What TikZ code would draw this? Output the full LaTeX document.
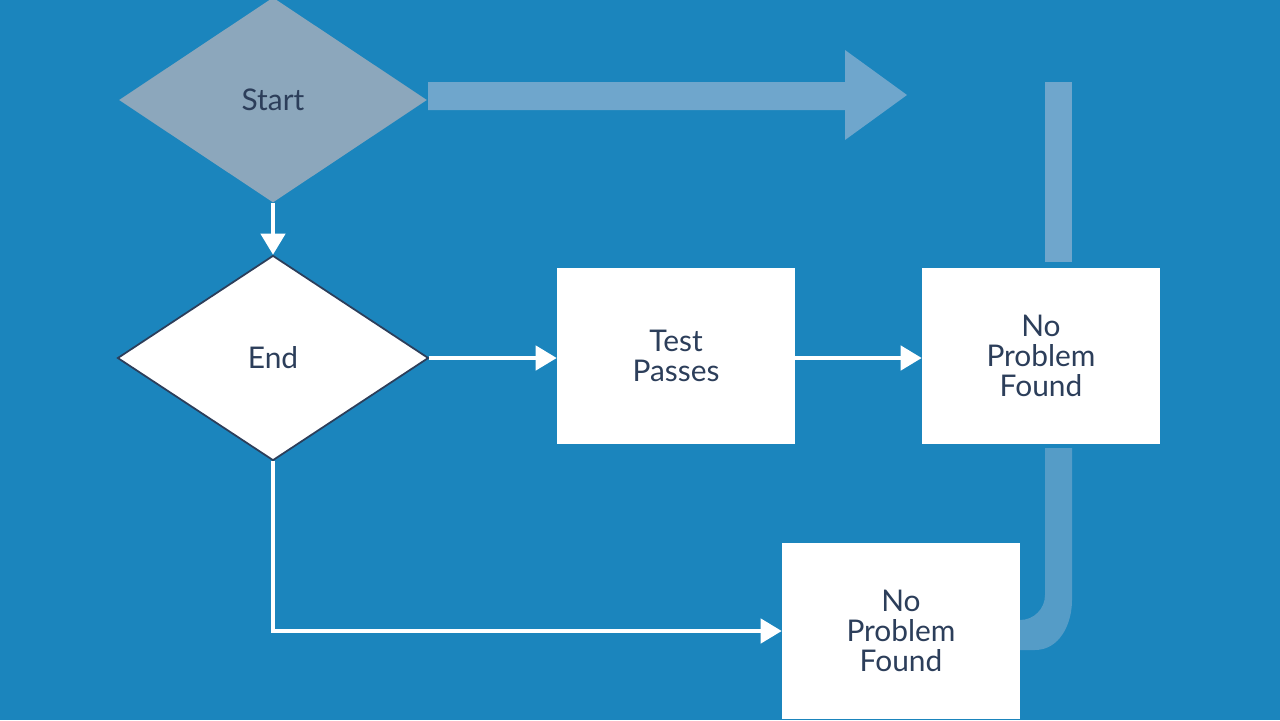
\documentclass[tikz,border=0pt]{standalone}
\usepackage{fontspec}
\setmainfont{Lato}
\usetikzlibrary{shapes.geometric,arrows.meta}
\definecolor{bg}{HTML}{1B85BD}
\definecolor{txt}{HTML}{2C3E5A}
\definecolor{ghost}{HTML}{6FA6CC}
\definecolor{startc}{HTML}{8CA7BC}
\begin{document}
\begin{tikzpicture}[x=0.02cm,y=-0.02cm,
  lbl/.style={text=txt,font=\fontsize{17}{19}\selectfont,align=center},
  box/.style={draw=none,fill=white,minimum width=238*0.02cm,minimum height=176*0.02cm,lbl},
  arr/.style={draw=white,line width=1.8pt,-{Triangle[length=12pt,width=14pt]}}]
\fill[bg] (0,0) rectangle (1280,720);
\useasboundingbox (0,0) rectangle (1280,720);
% ghost arrow and bar
\fill[ghost] (428,82) -- (845,82) -- (845,50) -- (907,95) -- (845,140) -- (845,110) -- (428,110) -- cycle;
\fill[ghost] (1045,82) rectangle (1072,262);
\fill[ghost,opacity=0.7] (1045,448) -- (1072,448) -- (1072,600) to[out=-90,in=0] (1035,650) -- (1020,650) -- (1020,620) to[out=0,in=-90] (1045,595) -- cycle;
% nodes
\node[diamond,fill=startc,minimum width=308*0.02cm,minimum height=205*0.02cm,inner sep=0,lbl] (start) at (273,100) {Start};
\node[diamond,fill=white,draw=txt,line width=1pt,minimum width=311*0.02cm,minimum height=205*0.02cm,inner sep=0,lbl] (end) at (273,358) {End};
\node[box] (test) at (676,356) {Test\\[-2pt]Passes};
\node[box] (np1) at (1041,356) {No\\[-2pt]Problem\\[-2pt]Found};
\node[box] (np2) at (901,631) {No\\[-2pt]Problem\\[-2pt]Found};
% connectors
\draw[arr] (start.south) -- (end.north);
\draw[arr] (end.east) -- (test.west |- end.east);
\draw[arr] (test.east |- end.east) -- (np1.west |- end.east);
\draw[arr] (end.south) |- (np2.west);
\end{tikzpicture}
\end{document}
